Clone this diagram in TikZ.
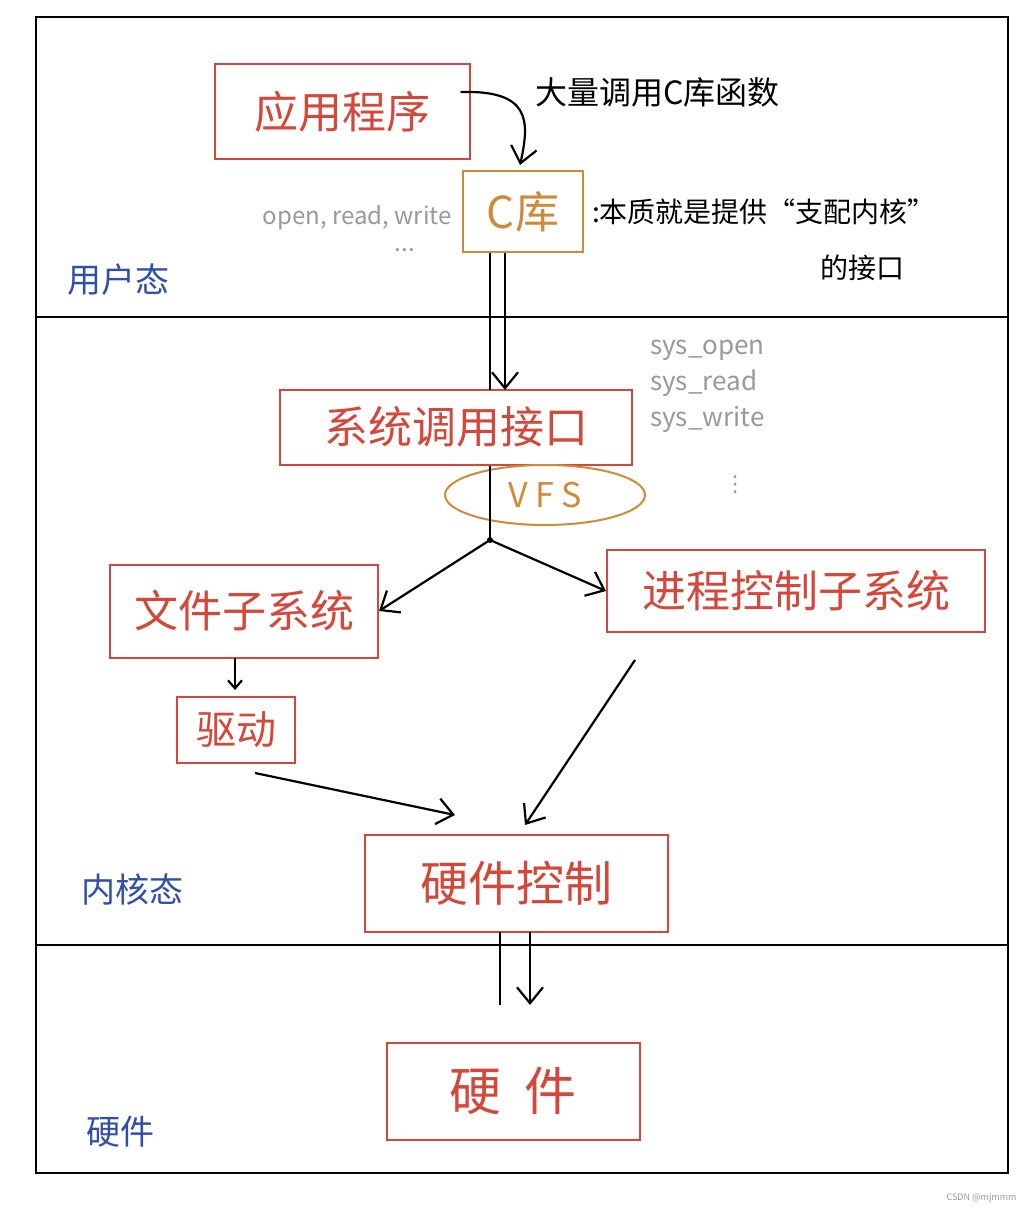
\documentclass[tikz,border=0pt]{standalone}
\usepackage{fontspec}
\setmainfont{Noto Sans CJK SC}
\newfontfamily\djv{DejaVu Sans}
\usetikzlibrary{arrows.meta,shapes.geometric}
\definecolor{rd}{HTML}{D5473A}
\definecolor{org}{HTML}{D08A3A}
\definecolor{bl}{HTML}{2F4FA8}
\definecolor{gr}{HTML}{999999}
\tikzset{x=1pt,y=-1pt,
 rbox/.style={draw=rd,line width=2pt,text=rd,inner sep=0pt},
 obox/.style={draw=org,line width=2pt,text=org,inner sep=0pt},
 conn/.style={line width=2.2pt,-{Straight Barb[length=16pt,width=26pt]}},
 lab/.style={text=bl,font=\fontsize{34}{36}\selectfont},
 note/.style={font=\fontsize{32}{34}\selectfont,inner sep=0pt},
 gnote/.style={text=gr,font=\fontsize{24}{26}\selectfont,align=left,inner sep=0pt}}
\begin{document}
\begin{tikzpicture}
\useasboundingbox[fill=white] (0,0) rectangle (1031,1214);
\draw[line width=2pt] (36,17) rectangle (1008,1173);
\draw[line width=2pt] (36,317) -- (1008,317);
\draw[line width=2pt] (36,945) -- (1008,945);
\node[rbox,minimum width=255pt,minimum height=95pt,font=\fontsize{44}{46}\selectfont] (app) at (342,112) {应用程序};
\node[obox,minimum width=120pt,minimum height=81pt,font=\fontsize{44}{46}\selectfont] (clib) at (523,212) {C库};
\node[rbox,minimum width=352pt,minimum height=75pt,font=\fontsize{44}{46}\selectfont] (sci) at (456,427) {系统调用接口};
\node[draw=org,line width=2pt,ellipse,minimum width=200pt,minimum height=60pt,text=org,font=\fontsize{34}{36}\selectfont] (vfs) at (545,495) {V F S};
\coordinate (j) at (490,540);
\fill (j) circle (3pt);
\node[rbox,minimum width=268pt,minimum height=93pt,font=\fontsize{44}{46}\selectfont] (fs) at (244,611) {文件子系统};
\node[rbox,minimum width=378pt,minimum height=82pt,font=\fontsize{44}{46}\selectfont] (pc) at (796,591) {进程控制子系统};
\node[rbox,minimum width=118pt,minimum height=66pt,font=\fontsize{40}{42}\selectfont] (drv) at (236,730) {驱动};
\node[rbox,minimum width=303pt,minimum height=97pt,font=\fontsize{48}{50}\selectfont] (hc) at (516,883) {硬件控制};
\node[rbox,minimum width=253pt,minimum height=97pt,font=\fontsize{52}{54}\selectfont] (hw) at (513,1091) {硬\ \ 件};
\node[lab] (u) at (118,280) {用户态};
\node[lab] (k) at (132,890) {内核态};
\node[lab] (h) at (120,1132) {硬件};
\node[note,anchor=west] (n1) at (535,92) {大量调用C库函数};
\node[note,anchor=west,font=\fontsize{28}{30}\selectfont] (n2) at (592,212) {:本质就是提供“支配内核”};
\node[note,font=\fontsize{28}{30}\selectfont] (n3) at (862,268) {的接口};
\node[gnote,anchor=east] (ow) at (452,218) {open, read, write};
\node[gnote] (od) at (405,250) {...};
\node[gnote,anchor=north west,font=\fontsize{26}{36}\selectfont] (sys) at (650,340) {sys\_open\\sys\_read\\sys\_write};
\node[gnote,font=\djv\fontsize{22}{24}\selectfont] (vd) at (735,485) {⋮};
\node[text=gr,font=\fontsize{9}{10}\selectfont,anchor=east] (wm) at (1020,1198) {CSDN @mjmmm};
% arrows
\draw[conn] (app.east) ++(-10,-20) .. controls (530,90) and (530,120) .. (520,165);
\draw[line width=2.2pt] (490,253) -- (490,390);
\draw[conn] (505,253) -- (505,390);
\draw[line width=2.2pt] (sci.south -| j) -- (j);
\draw[conn] (j) -- (fs.east);
\draw[conn] (j) -- (pc.west);
\draw[conn,-{Straight Barb[length=8pt,width=14pt]}] (235,658) -- (235,690);
\draw[conn] (255,773) -- (455,815);
\draw[conn] (635,660) -- (525,825);
\draw[line width=2.2pt] (500,932) -- (500,1005);
\draw[conn] (530,932) -- (530,1005);
\end{tikzpicture}
\end{document}
